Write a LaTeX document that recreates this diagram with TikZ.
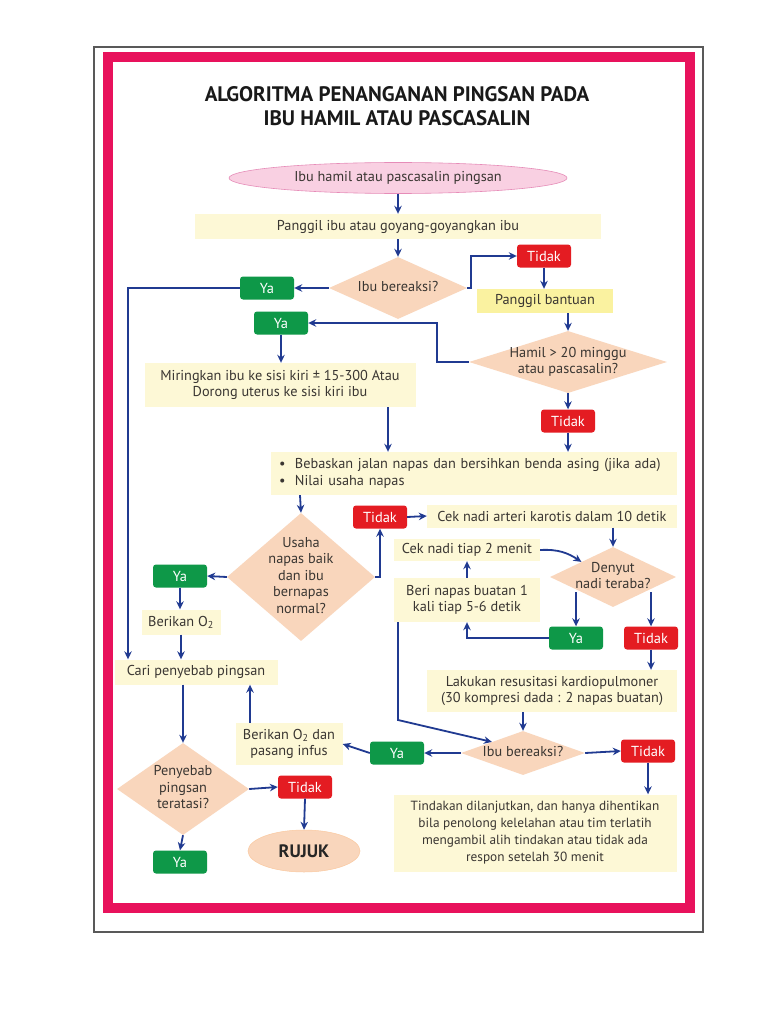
\documentclass[tikz,border=0pt]{standalone}
\usepackage{fontspec}
\setmainfont{PT Sans}
\usetikzlibrary{shapes.geometric,arrows.meta,calc}
\definecolor{pinkc}{RGB}{232,18,92}
\definecolor{cream}{RGB}{253,248,214}
\definecolor{yel}{RGB}{250,242,160}
\definecolor{peach}{RGB}{249,214,188}
\definecolor{ygreen}{RGB}{14,152,72}
\definecolor{tred}{RGB}{228,28,34}
\definecolor{ablue}{RGB}{32,58,145}
\definecolor{txt}{RGB}{58,54,50}
\definecolor{startfill}{RGB}{249,208,226}
\definecolor{startdraw}{RGB}{230,140,184}
\newcommand\dtext[1]{\makebox[0pt]{\smash{\raisebox{-0.25em}{\begin{tabular}{@{}c@{}}#1\end{tabular}}}}}
\begin{document}
\begin{tikzpicture}[x=1pt,y=-1pt,
  box/.style={rectangle, fill=cream, inner sep=0pt, text=txt, align=center,
    font=\fontsize{14.3}{16.5}\selectfont},
  ya/.style={rectangle, rounded corners=3pt, fill=ygreen, text=white, inner sep=0pt,
    minimum width=54pt, minimum height=23pt, font=\fontsize{14.5}{16}\selectfont},
  tidak/.style={ya, fill=tred},
  dia/.style={diamond, fill=peach, inner sep=0pt, text=txt,
    font=\fontsize{14.3}{16.5}\selectfont},
  ln/.style={line width=1.8pt, draw=ablue},
  arr/.style={ln, -{Stealth[length=8pt,width=7.5pt]}}]
\useasboundingbox (0,0) rectangle (768,1024);
\fill[white] (0,0) rectangle (768,1024);
% frames
\draw[line width=1.2pt, draw=black!65] (94,47) rectangle (703,932);
\draw[line width=10pt, draw=pinkc] (107.5,57) rectangle (689.5,907.5);
% title
\node[text=black!90, font=\fontsize{21}{24}\selectfont\bfseries] (t1) at (397,94) {ALGORITMA PENANGANAN PINGSAN PADA};
\node[text=black!90, font=\fontsize{21}{24}\selectfont\bfseries] (t2) at (397,118.5) {IBU HAMIL ATAU PASCASALIN};
% nodes
\node[ellipse, fill=startfill, draw=startdraw, line width=0.6pt, minimum width=338pt, minimum height=31pt, inner sep=0pt, text=txt, font=\fontsize{14.3}{16}\selectfont] (start) at (398,178) {Ibu hamil atau pascasalin pingsan};
\node[box, minimum width=406pt, minimum height=25pt] (panggil) at (398,226.5) {Panggil ibu atau goyang-goyangkan ibu};
\node[dia, minimum width=138pt, minimum height=62pt] (d1) at (398,288) {\dtext{Ibu bereaksi?}};
\node[ya] (ya1) at (267,288) {Ya};
\node[tidak] (tidak1) at (544,256) {Tidak};
\node[box, fill=yel, minimum width=136pt, minimum height=24pt] (bantuan) at (545,301) {Panggil bantuan};
\node[dia, minimum width=198pt, minimum height=62pt] (d2) at (568,362) {\dtext{Hamil > 20 minggu\\atau pascasalin?}};
\node[ya] (ya2) at (281,323) {Ya};
\node[box, minimum width=271pt, minimum height=44pt] (miring) at (280,385) {Miringkan ibu ke sisi kiri ± 15-300 Atau\\Dorong uterus ke sisi kiri ibu};
\node[tidak] (tidak2) at (568,421) {Tidak};
\node[box, minimum width=406pt, minimum height=43pt, text width=390pt, align=left] (bebas) at (474,473.5) {\textbullet\ \ Bebaskan jalan napas dan bersihkan benda asing (jika ada)\\\textbullet\ \ Nilai usaha napas};
\node[dia, minimum width=148pt, minimum height=128pt] (d3) at (301,577) {\dtext{Usaha\\napas baik\\dan ibu\\bernapas\\normal?}};
\node[ya] (ya3) at (180,576) {Ya};
\node[box, minimum width=79pt, minimum height=25pt] (berikan) at (181,622) {Berikan O\textsubscript{2}};
\node[tidak] (tidak3) at (380,517) {Tidak};
\node[box, minimum width=250pt, minimum height=23pt] (ceknadi) at (552,516) {Cek nadi arteri karotis dalam 10 detik};
\node[box, minimum width=146pt, minimum height=22pt] (tiap2) at (467,550) {Cek nadi tiap 2 menit};
\node[box, minimum width=146pt, minimum height=44pt] (beri) at (467,600) {Beri napas buatan 1\\kali tiap 5-6 detik};
\node[dia, minimum width=126pt, minimum height=60pt] (d4) at (613,577) {\dtext{Denyut\\nadi teraba?}};
\node[ya] (ya4) at (576,638) {Ya};
\node[tidak] (tidak4) at (651,638) {Tidak};
\node[box, minimum width=250pt, minimum height=42pt] (lakukan) at (552,691) {Lakukan resusitasi kardiopulmoner\\(30 kompresi dada : 2 napas buatan)};
\node[box, minimum width=163pt, minimum height=25pt] (cari) at (196,672) {Cari penyebab pingsan};
\node[dia, minimum width=124pt, minimum height=44pt] (d5) at (523,753) {\dtext{Ibu bereaksi?}};
\node[ya] (ya6) at (397,753) {Ya};
\node[tidak] (tidak6) at (648,751) {Tidak};
\node[box, minimum width=107pt, minimum height=42pt] (infus) at (289,744) {Berikan O\textsubscript{2} dan\\pasang infus};
\node[dia, minimum width=132pt, minimum height=92pt] (d6) at (183,789) {\dtext{Penyebab\\pingsan\\teratasi?}};
\node[tidak] (tidak5) at (305,787) {Tidak};
\node[ellipse, fill=peach, draw=peach!85!orange, line width=0.5pt, minimum width=112pt, minimum height=42pt, inner sep=0pt, text=black!85, font=\fontsize{18}{20}\selectfont\bfseries] (rujuk) at (304,851) {RUJUK};
\node[ya] (ya5) at (180,862) {Ya};
\node[box, minimum width=283pt, minimum height=77pt, font=\fontsize{13.3}{17}\selectfont] (final) at (535,833) {Tindakan dilanjutkan, dan hanya dihentikan\\bila penolong kelelahan atau tim terlatih\\mengambil alih tindakan atau tidak ada\\respon setelah 30 menit};
% helper coordinates
\coordinate (L) at (128,288);
\coordinate (bend) at (398,720);
\coordinate (iu) at (250,0);
\coordinate (mx) at (388,0);
\coordinate (bx) at (300,0);
% connectors
\draw[arr] (start) -- (panggil);
\draw[arr] (panggil) -- (d1);
\draw[arr] (d1.west) -- (ya1.east);
\draw[arr] (ya1.west) -- (L) -- (L |- cari.north);
\draw[arr] (d1.east) -- ++(4,0) |- (tidak1.west);
\draw[arr] (tidak1.south) -- (bantuan.north -| tidak1.south);
\draw[arr] (bantuan.south -| d2.north) -- (d2.north);
\draw[arr] (d2.west) -- ++(-32,0) |- (ya2.east);
\draw[arr] (ya2.south) -- (ya2.south |- miring.north);
\draw[arr] (mx |- miring.south) -- (mx |- bebas.north);
\draw[arr] (d2.south) -- (tidak2.north);
\draw[arr] (tidak2.south) -- (tidak2.south |- bebas.north);
\draw[arr] (bx |- bebas.south) -- (d3.north);
\draw[arr] (d3.west) -- (ya3.east);
\draw[arr] (ya3.south) -- (ya3.south |- berikan.north);
\draw[arr] (berikan.south) -- (berikan.south |- cari.north);
\draw[arr] (d3.east) -| (tidak3.south);
\draw[arr] (tidak3.east) -- (ceknadi.west);
\draw[arr] (d4.north |- ceknadi.south) -- (d4.north);
\draw[arr] (tiap2.east) .. controls (558,549) and (568,553) .. (d4.north west);
\draw[arr] (beri.north) -- (tiap2.south);
\draw[arr] (ya4.west) -| (beri.south);
\draw[arr] (ya4.north |- d4.south west) -- (ya4.north);
\draw[arr] (tidak4.north |- d4.south east) -- (tidak4.north);
\draw[arr] (tidak4.south) -- (tidak4.south |- lakukan.north);
\draw[arr] (d5.north |- lakukan.south) -- (d5.north);
\draw[arr] (bend |- beri.south) -- (bend) -- (d5.north west);
\draw[arr] (d5.west) -- (ya6.east);
\draw[arr] (ya6.west) -- (infus.east);
\draw[arr] (d5.east) -- (tidak6.west);
\draw[arr] (tidak6.south) -- (tidak6.south |- final.north);
\draw[arr] (iu |- infus.north) -- (iu |- cari.south);
\draw[arr] (d6.north |- cari.south) -- (d6.north);
\draw[arr] (d6.east) -- (tidak5.west);
\draw[arr] (tidak5.south) -- (rujuk.north);
\draw[arr] (d6.south) -- (ya5.north);
\end{tikzpicture}
\end{document}
